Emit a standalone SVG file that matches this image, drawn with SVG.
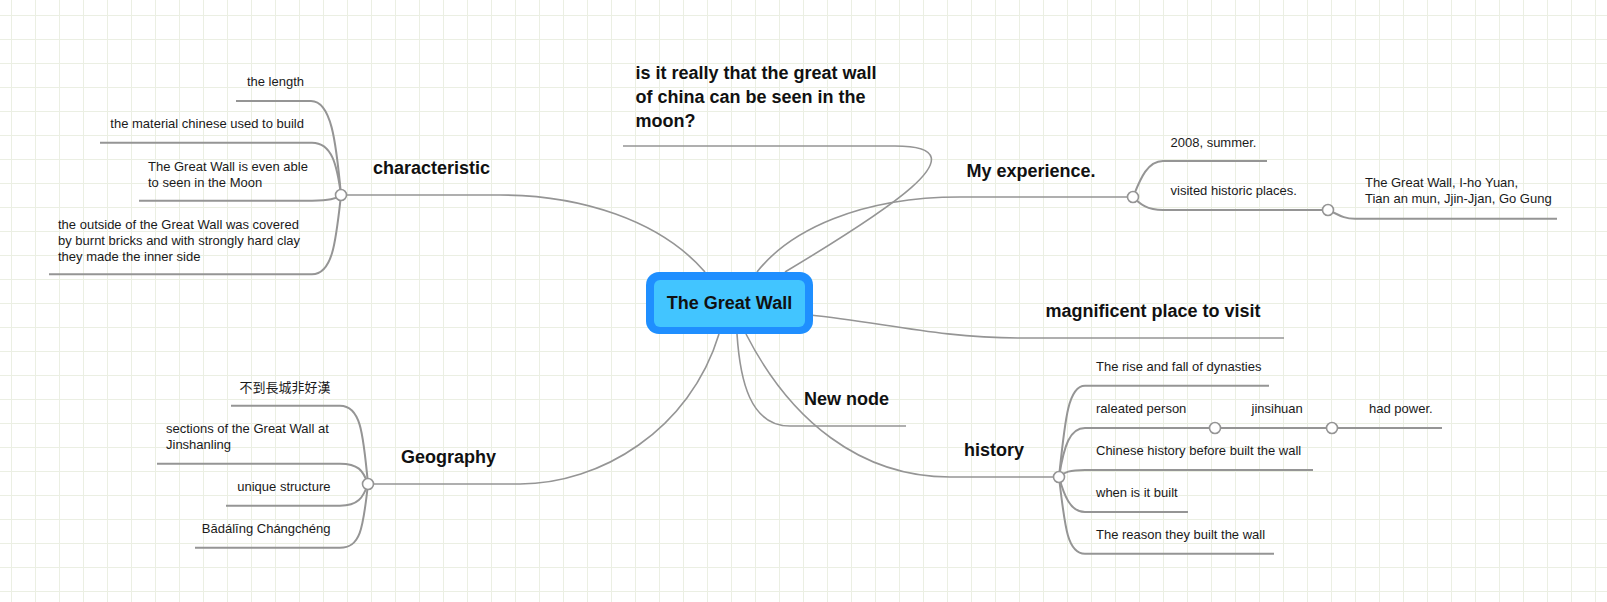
<svg xmlns="http://www.w3.org/2000/svg" width="1607" height="602" viewBox="0 0 1607 602">
<style>
.t{font-family:"Liberation Sans",Arial,sans-serif;font-size:13px;fill:#1a1a1a}
.b{font-family:"Liberation Sans",Arial,sans-serif;font-size:18px;font-weight:bold;fill:#111}
.r{text-anchor:end}
.c{fill:none;stroke:#959595;stroke-width:2}
.m{fill:none;stroke:#959595;stroke-width:1.6}
.k{fill:#fff;stroke:#959595;stroke-width:1.6}
</style>
<defs>
<pattern id="grid" patternUnits="userSpaceOnUse" width="24" height="24">
<rect x="11" y="0" width="1" height="24" fill="#ebefe3"/>
<rect x="0" y="15" width="24" height="1" fill="#ebefe3"/>
</pattern>
</defs>
<rect width="1607" height="602" fill="#fff"/>
<rect width="1607" height="602" fill="url(#grid)"/>

<g id="connectors">
<path class="m" d="M341 195 H500 C580 195 660 220 705 272"/>
<path class="m" d="M785 272 C880 215 990 146 895 146 H623"/>
<path class="m" d="M757 272 C790 230 860 197 960 197 H1133"/>
<path class="m" d="M810 315 C880 322 940 338 1020 338 H1284"/>
<path class="m" d="M737 334 C740 380 750 426 790 426 H906"/>
<path class="m" d="M746 334 C790 420 860 477 950 477 H1059"/>
<path class="m" d="M719 334 C690 430 600 484 520 484 H368"/>
<path class="c" d="M341 195 C336 140 331 101 311 101 H236"/>
<path class="c" d="M341 195 C337 165 332 142.7 312 142.7 H100"/>
<path class="c" d="M341 195 C335 199 330 200.7 312 200.7 H139"/>
<path class="c" d="M341 195 C336 240 333 274.3 312 274.3 H49"/>
<path class="c" d="M368 484 C363 430 360 405.7 340 405.7 H231"/>
<path class="c" d="M368 484 C363 470 358 463.7 340 463.7 H157"/>
<path class="c" d="M368 484 C363 498 358 505.7 340 505.7 H226"/>
<path class="c" d="M368 484 C363 530 360 547.7 340 547.7 H195"/>
<path class="c" d="M1133 197 C1140 180 1147 161 1163 161 H1267"/>
<path class="c" d="M1133 197 C1140 204 1147 210 1163 210 H1328"/>
<path class="c" d="M1328 210 C1338 214 1342 218.7 1355 218.7 H1557"/>
<path class="c" d="M1059 477 C1065 420 1068 385.7 1085 385.7 H1269"/>
<path class="c" d="M1059 477 C1064 445 1070 428 1085 428 H1442"/>
<path class="c" d="M1059 477 C1064 472 1070 470 1085 470 H1313"/>
<path class="c" d="M1059 477 C1064 495 1070 512 1085 512 H1188"/>
<path class="c" d="M1059 477 C1065 530 1068 553.7 1085 553.7 H1274"/>
<circle class="k" cx="341" cy="195" r="5.5"/>
<circle class="k" cx="368" cy="484" r="5.5"/>
<circle class="k" cx="1133" cy="197" r="5.5"/>
<circle class="k" cx="1328" cy="210" r="5.5"/>
<circle class="k" cx="1059" cy="477" r="5.5"/>
<circle class="k" cx="1215" cy="428" r="5.5"/>
<circle class="k" cx="1332" cy="428" r="5.5"/>
</g>

<g id="central">
<rect x="646" y="272" width="167" height="62" rx="13" fill="#1f8fff"/>
<rect x="654" y="280" width="151" height="47" rx="6" fill="#42c5ff"/>
<text class="b" x="729.5" y="309" text-anchor="middle">The Great Wall</text>
</g>

<g id="characteristic"><text class="b" x="373" y="174">characteristic</text></g>
<g id="c-length"><text class="t r" x="304" y="86">the length</text></g>
<g id="c-material"><text class="t r" x="304" y="128">the material chinese used to build</text></g>
<g id="c-moon"><text class="t" x="148" y="170.5">The Great Wall is even able</text><text class="t" x="148" y="186.5">to seen in the Moon</text></g>
<g id="c-outside"><text class="t" x="58" y="229">the outside of the Great Wall was covered</text><text class="t" x="58" y="245">by burnt bricks and with strongly hard clay</text><text class="t" x="58" y="261">they made the inner side</text></g>

<g id="question"><text class="b" x="635.5" y="79">is it really that the great wall</text><text class="b" x="635.5" y="103">of china can be seen in the</text><text class="b" x="635.5" y="127">moon?</text></g>

<g id="experience"><text class="b" x="966.5" y="176.5">My experience.</text></g>
<g id="e-2008"><text class="t" x="1170.5" y="147">2008, summer.</text></g>
<g id="e-visited"><text class="t" x="1170.5" y="195">visited historic places.</text></g>
<g id="e-places"><text class="t" x="1365" y="186.5">The Great Wall, I-ho Yuan,</text><text class="t" x="1365" y="203">Tian an mun, Jjin-Jjan, Go Gung</text></g>

<g id="magnificent"><text class="b" x="1045.5" y="317">magnificent place to visit</text></g>
<g id="newnode"><text class="b" x="804" y="405">New node</text></g>

<g id="history"><text class="b" x="964" y="456">history</text></g>
<g id="h-rise"><text class="t" x="1096" y="371">The rise and fall of dynasties</text></g>
<g id="h-person"><text class="t" x="1096" y="413">raleated person</text></g>
<g id="h-jinsihuan"><text class="t" x="1251.5" y="413">jinsihuan</text></g>
<g id="h-power"><text class="t" x="1369" y="413">had power.</text></g>
<g id="h-before"><text class="t" x="1096" y="455">Chinese history before built the wall</text></g>
<g id="h-when"><text class="t" x="1096" y="497">when is it built</text></g>
<g id="h-reason"><text class="t" x="1096" y="539">The reason they built the wall</text></g>

<g id="geography"><text class="b" x="401" y="463">Geography</text></g>
<g id="g-saying"><text class="t r" x="330.5" y="391.5" style="font-family:'Liberation Sans','Noto Sans CJK TC',sans-serif">不到長城非好漢</text></g>
<g id="g-sections"><text class="t" x="166" y="433">sections of the Great Wall at</text><text class="t" x="166" y="449">Jinshanling</text></g>
<g id="g-unique"><text class="t r" x="330.5" y="491">unique structure</text></g>
<g id="g-badaling"><text class="t r" x="330.5" y="533">Bādálīng Chángchéng</text></g>
</svg>
